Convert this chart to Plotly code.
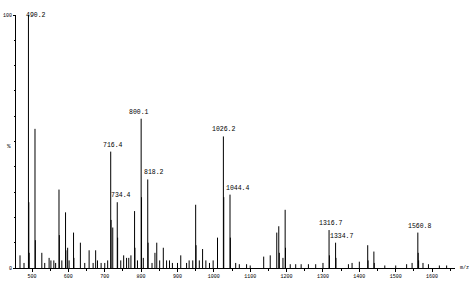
import plotly.graph_objects as go

# m/z values and relative intensities (%)
mz = [467, 478, 490.2, 491.2, 492.2, 508.2, 509.2, 527, 535, 547, 552, 560, 565,
      574.2, 575.2, 582, 592.2, 593.2, 598, 602, 614.2, 615.2, 633, 645, 657, 668,
      675, 680, 690, 700, 708, 716.4, 717.4, 722, 734.4, 735.4, 744, 752, 760, 766,
      772, 782, 783, 790, 800.1, 801.1, 806, 818.2, 819.2, 830, 838, 843, 851, 861,
      870, 878, 886, 900, 909, 925, 932, 942, 950, 951, 960, 969, 978, 988, 998,
      1010, 1026.2, 1027.2, 1044.4, 1045.4, 1060, 1070, 1090, 1100, 1137, 1155,
      1173, 1178.5, 1180, 1190, 1196, 1197, 1210, 1225, 1240, 1260, 1280, 1300,
      1316.7, 1317.7, 1334.7, 1335.7, 1370, 1380, 1400, 1423, 1424, 1440, 1441,
      1470, 1500, 1530, 1545, 1560.8, 1561.8, 1563, 1575, 1590, 1620, 1640]
intensity = [5, 2, 100, 26, 6, 55, 11, 6, 2, 4, 3, 3, 2,
             31, 13, 3, 22, 7, 8, 3, 14, 4, 10, 2, 7, 2,
             7, 3, 2, 2, 3, 46, 19, 16, 26, 12, 3, 5, 4, 4,
             5, 22.5, 8, 3, 59, 28, 4, 35, 10, 2, 6, 10, 3, 8,
             3, 3, 2, 2, 5, 2, 3, 3, 25, 9, 3, 7.5, 3, 2, 3,
             12, 52, 28, 29, 12, 2, 1.5, 1.5, 1, 4.5, 5,
             14, 16.5, 6, 4, 23, 8, 1.5, 1.5, 1.5, 1.5, 1.5, 2,
             15, 5, 10, 4, 1.5, 2, 2.5, 9, 3, 6.5, 2,
             1, 1, 1.5, 2, 14, 6, 3, 2, 1.5, 1, 1]

# labelled peaks
label_mz = [490.2, 716.4, 734.4, 800.1, 818.2, 1026.2, 1044.4, 1316.7, 1334.7, 1560.8]
label_int = [100, 46, 26, 59, 35, 52, 29, 15, 10, 14]
label_text = ["490.2", "716.4", "734.4", "800.1", "818.2", "1026.2", "1044.4",
              "1316.7", "1334.7", "1560.8"]
label_dx = [8, 2, 4, -2, 6, 1, 8, 2, 6, 2]
label_dy = [-1, 1, 1, 1, 1, 1, 1, 1, 1, 1]

x_tick_vals = [500, 600, 700, 800, 900, 1000, 1100, 1200, 1300, 1400, 1500, 1600]

xs, ys = [], []
for m, i in zip(mz, intensity):
    xs += [m, m, None]
    ys += [0, i, None]

fig = go.Figure()
fig.add_trace(go.Scatter(x=xs, y=ys, mode="lines",
                         line=dict(color="black", width=1),
                         hoverinfo="skip", showlegend=False))

mono = "Liberation Mono"
for m, i, t, dx, dy in zip(label_mz, label_int, label_text, label_dx, label_dy):
    if dy < 0:
        fig.add_annotation(x=m, y=i, text=t, showarrow=False, xanchor="center",
                           yanchor="middle", xshift=dx, yshift=0,
                           font=dict(family=mono, size=6.5, color="black"))
    else:
        fig.add_annotation(x=m, y=i, text=t, showarrow=False, xanchor="center",
                           yanchor="bottom", xshift=dx, yshift=1,
                           font=dict(family=mono, size=6.5, color="black"))

fig.add_annotation(xref="paper", yref="paper", x=1, y=0, text="m/z",
                   showarrow=False, xanchor="left", yanchor="middle", xshift=3,
                   font=dict(family=mono, size=5, color="black"))
fig.add_annotation(xref="paper", yref="paper", x=0, y=0.48, text="%",
                   showarrow=False, xanchor="right", yanchor="middle", xshift=-3,
                   font=dict(family=mono, size=6, color="black"))

fig.update_layout(
    width=474, height=281,
    margin=dict(l=16, r=19, t=15, b=13, autoexpand=False),
    paper_bgcolor="white", plot_bgcolor="white",
    xaxis=dict(range=[456, 1663], showgrid=False, zeroline=False, automargin=False,
               showline=True, linecolor="black", linewidth=1,
               tickvals=x_tick_vals, ticks="outside", ticklen=3,
               tickcolor="black", tickwidth=1,
               minor=dict(dtick=50, ticks="outside", ticklen=2, tickcolor="black"),
               tickfont=dict(family=mono, size=5, color="black")),
    yaxis=dict(range=[0, 100], showgrid=False, zeroline=False, automargin=False,
               showline=True, linecolor="black", linewidth=1,
               tickvals=[0, 100], ticktext=["0", "100"],
               ticks="outside", ticklen=2, tickcolor="black",
               minor=dict(dtick=10, ticks="outside", ticklen=1, tickcolor="black"),
               tickfont=dict(family=mono, size=5, color="black")),
)

fig.write_html("out.html")
